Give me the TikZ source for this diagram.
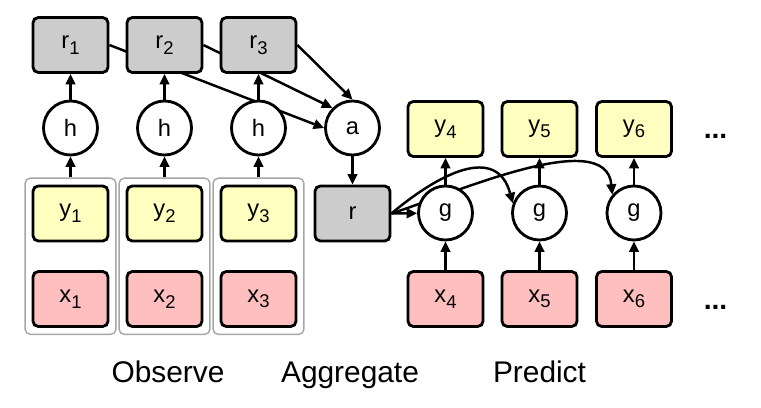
\documentclass[tikz,border=0pt]{standalone}
\usepackage{fontspec}
\setmainfont{Liberation Sans}
\usetikzlibrary{arrows.meta}
\usetikzlibrary{backgrounds}
\usetikzlibrary{fit}
\definecolor{repgray}{RGB}{204,204,204}
\definecolor{ylight}{RGB}{255,255,192}
\definecolor{xlight}{RGB}{255,191,191}
\newcommand{\sub}[1]{\raisebox{-3.2pt}{\fontsize{10.5}{12}\selectfont #1}}
\begin{document}
\begin{tikzpicture}[
	box/.style={draw, rectangle, rounded corners=3pt, line width=1.6pt,
		minimum width=1.5cm, minimum height=1.1cm,
		font=\fontsize{13.5}{15}\selectfont},
	rbox/.style={box, fill=repgray},
	ybox/.style={box, fill=ylight},
	xbox/.style={box, fill=xlight},
	fn/.style={draw, circle, fill=white, line width=1.6pt, inner sep=0pt,
		minimum size=1.08cm, font=\fontsize{13.5}{15}\selectfont},
	obs/.style={draw=black!35, rounded corners=3pt, line width=0.8pt, inner sep=0.13cm},
	arr/.style={-{Triangle[length=6pt,width=5.5pt]}, line width=1.4pt},
	lbl/.style={anchor=base, font=\fontsize{17}{19}\selectfont},
	more/.style={anchor=base, font=\fontsize{16}{18}\selectfont\bfseries}
]
	\useasboundingbox (0,0) rectangle (15.22,8.14);

	% observe
	\node[rbox] (r1) at (1.41,7.24) {r\sub{1}};
	\node[rbox] (r2) at (3.29,7.24) {r\sub{2}};
	\node[rbox] (r3) at (5.17,7.24) {r\sub{3}};
	\node[fn] (h1) at (1.41,5.58) {h};
	\node[fn] (h2) at (3.29,5.58) {h};
	\node[fn] (h3) at (5.17,5.58) {h};
	\node[ybox] (y1) at (1.41,3.87) {y\sub{1}};
	\node[ybox] (y2) at (3.29,3.87) {y\sub{2}};
	\node[ybox] (y3) at (5.17,3.87) {y\sub{3}};
	\node[xbox] (x1) at (1.41,2.16) {x\sub{1}};
	\node[xbox] (x2) at (3.29,2.16) {x\sub{2}};
	\node[xbox] (x3) at (5.17,2.16) {x\sub{3}};
	\node[obs, fit=(y1)(x1)] (o1) {};
	\node[obs, fit=(y2)(x2)] (o2) {};
	\node[obs, fit=(y3)(x3)] (o3) {};

	% aggregate
	\node[fn] (a) at (7.05,5.58) {a};
	\node[rbox] (r) at (7.05,3.87) {r};

	% predict
	\node[ybox] (y4) at (8.91,5.56) {y\sub{4}};
	\node[ybox] (y5) at (10.79,5.56) {y\sub{5}};
	\node[ybox] (y6) at (12.68,5.56) {y\sub{6}};
	\node[fn] (g4) at (8.91,3.88) {g};
	\node[fn] (g5) at (10.79,3.88) {g};
	\node[fn] (g6) at (12.68,3.88) {g};
	\node[xbox] (x4) at (8.91,2.16) {x\sub{4}};
	\node[xbox] (x5) at (10.79,2.16) {x\sub{5}};
	\node[xbox] (x6) at (12.68,2.16) {x\sub{6}};
	\node[more] (dy) at (14.31,5.36) {...};
	\node[more] (dx) at (14.31,1.96) {...};

	\node[lbl] (lo) at (3.36,0.5) {Observe};
	\node[lbl] (la) at (7.0,0.5) {Aggregate};
	\node[lbl] (lp) at (10.79,0.5) {Predict};

	\foreach \i in {1,2,3} {
		\draw[arr] (o\i) -- (h\i);
		\draw[arr] (h\i) -- (r\i);
	}
	\foreach \i in {4,5,6} {
		\draw[arr] (x\i) -- (g\i);
		\draw[arr] (g\i) -- (y\i);
	}
	\draw[arr] (a) -- (r);

	\begin{scope}[on background layer]
		\draw[arr] (r1.east) -- (a.west);
		\draw[arr] (r2.east) -- (a.north west);
		\draw[arr] (r3.east) -- (a.north);
		\draw[arr] (r.east) -- (g4);
		\draw[arr] (r.east) to[out=40, in=105, looseness=1.3] (g5.160);
		\draw[arr] (r.east) to[out=18, in=95, looseness=0.8] (g6.140);
	\end{scope}
\end{tikzpicture}
\end{document}
